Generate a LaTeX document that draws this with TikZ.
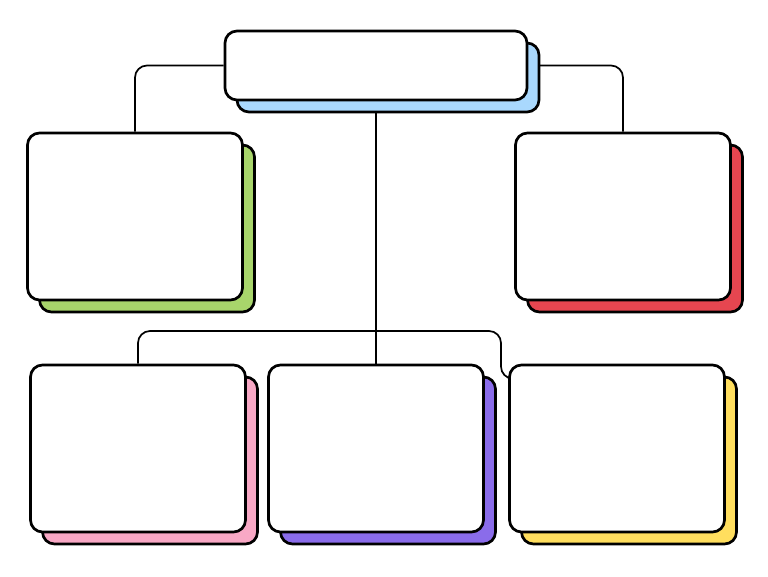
\documentclass[tikz,border=0pt]{standalone}
\usetikzlibrary{shapes,shadows,backgrounds,positioning}
\definecolor{skyblue}{HTML}{A9D8FD}
\definecolor{leafgreen}{HTML}{A8D56B}
\definecolor{tomatored}{HTML}{E64650}
\definecolor{rosepink}{HTML}{F8A8C5}
\definecolor{cardviolet}{HTML}{8A6CEA}
\definecolor{sunyellow}{HTML}{FFDE5E}
\tikzset{back/.style={drop shadow={shadow xshift=12pt, shadow yshift=-12pt,
  fill=#1, draw=black, line width=2.7pt, opacity=1}}}
\begin{document}
\begin{tikzpicture}[x=1pt, y=-1pt, node distance=238pt]
  \tikzstyle{card} = [rectangle, draw, fill=white, line width=2.7pt,
    rounded corners=12pt, minimum width=215pt, minimum height=167pt, inner sep=0pt]
  \tikzstyle{link} = [draw, line width=1.7pt, rounded corners=12pt]
  \useasboundingbox (0,0) rectangle (768,576);

  % Place nodes
  \node [card, minimum width=302pt, minimum height=69pt, back=skyblue] (head) at (376,65.5) {};
  \node [card, back=leafgreen] (left) at (135,216.5) {};
  \node [card, back=tomatored, right of=left, node distance=488pt] (right) {};
  \node [card, back=rosepink] (pink) at (138,448.5) {};
  \node [card, back=cardviolet, right of=pink] (violet) {};
  \node [card, back=sunyellow, right of=violet, node distance=241pt] (yellow) {};

  % Draw edges
  \begin{scope}[on background layer]
    \coordinate (drop) at (501,331);
    \path [link] (head.west) -| (left.north);
    \path [link] (head.east) -| (right.north);
    \path [link] (head.south) -- (violet.north);
    \path [link] (pink.north) |- (drop) |- ([xshift=6pt, yshift=-15pt]yellow.north west);
  \end{scope}
\end{tikzpicture}
\end{document}
